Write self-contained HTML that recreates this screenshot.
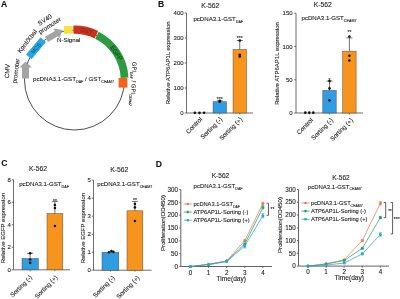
<!DOCTYPE html>
<html><head><meta charset="utf-8"><style>
html,body{margin:0;padding:0;background:#fff;overflow:hidden;}
svg{display:block;font-family:"Liberation Sans", sans-serif;filter:blur(0.3px);}
text{stroke:#1c1c1c;stroke-width:0.1px;}
.nos{stroke:none}
</style></head><body>
<svg width="400" height="299" viewBox="0 0 400 299">
<rect width="400" height="299" fill="#fff"/>
<text x="1.00" y="6.80" font-size="8.6" text-anchor="start" fill="#111" font-weight="bold" >A</text>
<circle cx="74.5" cy="80" r="50" fill="none" stroke="#3a3a3a" stroke-width="0.9"/>
<path d="M22,78.4 L22,67.4 L19.4,67.4 L25.6,61.6 L31.8,67.4 L29,67.4 L29,78.4 Z" fill="#a4a4a4"/>
<g transform="translate(36,48.3) rotate(-50)"><rect x="-11.2" y="-3.6" width="22.4" height="7.2" fill="#27a7e2"/><text x="0" y="1.9" font-size="5.4" text-anchor="middle" fill="#17608c" style="stroke:#17608c">MCS</text></g>
<g transform="translate(54.3,34.8) rotate(-30)"><path d="M-9,-3 L2.4,-3 L2.4,-6 L9.4,0 L2.4,6 L2.4,3 L-9,3 Z" fill="#a4a4a4"/></g>
<rect x="63.8" y="26" width="8.8" height="7.7" fill="#f3e23c"/>
<path d="M73.36,25.61 A54.4,54.4 0 0 1 98.18,31.02 L94.61,38.41 A46.199999999999996,46.199999999999996 0 0 0 73.53,33.81Z" fill="#c93220"/>
<path d="M98.68,31.72 A54.0,54.0 0 0 1 128.44,77.55 L120.65,77.90 A46.2,46.2 0 0 0 95.19,38.69Z" fill="#2f9b40"/>
<rect x="118.6" y="78" width="8.8" height="9.6" fill="#f26322"/>
<g transform="translate(86.3,31) rotate(15)"><text x="0" y="2.1" font-size="6" text-anchor="middle" fill="#9a2414" style="stroke:#9a2414">GST</text></g>
<g transform="translate(116.4,52.9) rotate(56)"><text x="0" y="2.1" font-size="6.1" text-anchor="middle" fill="#0f4416" style="stroke:#0f4416">EGFP</text></g>
<text x="9.00" y="78.20" font-size="6.3" text-anchor="start" fill="#1c1c1c" font-weight="normal" transform="rotate(-87 9.00 78.20)" >CMV</text>
<text x="16.60" y="83.60" font-size="6.2" text-anchor="start" fill="#1c1c1c" font-weight="normal" transform="rotate(-83 16.60 83.60)" >promoter</text>
<text x="20.50" y="53.50" font-size="6.3" text-anchor="start" fill="#1c1c1c" font-weight="normal" transform="rotate(-52 20.50 53.50)" >KpnI/XbaI</text>
<text x="39.60" y="26.00" font-size="6.4" text-anchor="start" fill="#1c1c1c" font-weight="normal" transform="rotate(-34 39.60 26.00)" >SV40</text>
<text x="40.30" y="34.20" font-size="6.3" text-anchor="start" fill="#1c1c1c" font-weight="normal" transform="rotate(-33 40.30 34.20)" >promoter</text>
<text x="57.00" y="42.40" font-size="6.1" text-anchor="start" fill="#1c1c1c" font-weight="normal" >N-Signal</text>
<text x="33" y="81.3" font-size="6.2" fill="#1c1c1c">pcDNA3.1-GST<tspan font-size="3.7" dy="1.8">DAF</tspan><tspan dy="-1.8"> / GST</tspan><tspan font-size="3.7" dy="1.8">CEAM7</tspan></text>
<g transform="translate(132.6,61.8) rotate(92.5)"><text x="0" y="0" font-size="5.9" fill="#1c1c1c">GPI<tspan font-size="3.5" dy="1.8">DAF</tspan><tspan dy="-1.8"> / GPI</tspan><tspan font-size="3.5" dy="1.8">CEAM7</tspan></text></g>
<text x="158.00" y="7.20" font-size="8.6" text-anchor="start" fill="#111" font-weight="bold" >B</text>
<path d="M186.5,13.0 L186.5,113 L253,113" fill="none" stroke="#4a4a4a" stroke-width="0.8"/>
<line x1="184.7" y1="113.0" x2="186.5" y2="113.0" stroke="#4a4a4a" stroke-width="0.8"/>
<text x="183.60" y="115.10" font-size="6.0" text-anchor="end" fill="#1c1c1c" font-weight="normal" >0</text>
<line x1="184.7" y1="88.0" x2="186.5" y2="88.0" stroke="#4a4a4a" stroke-width="0.8"/>
<text x="183.60" y="90.10" font-size="6.0" text-anchor="end" fill="#1c1c1c" font-weight="normal" >100</text>
<line x1="184.7" y1="63.0" x2="186.5" y2="63.0" stroke="#4a4a4a" stroke-width="0.8"/>
<text x="183.60" y="65.10" font-size="6.0" text-anchor="end" fill="#1c1c1c" font-weight="normal" >200</text>
<line x1="184.7" y1="38.0" x2="186.5" y2="38.0" stroke="#4a4a4a" stroke-width="0.8"/>
<text x="183.60" y="40.10" font-size="6.0" text-anchor="end" fill="#1c1c1c" font-weight="normal" >300</text>
<line x1="184.7" y1="13.0" x2="186.5" y2="13.0" stroke="#4a4a4a" stroke-width="0.8"/>
<text x="183.60" y="15.10" font-size="6.0" text-anchor="end" fill="#1c1c1c" font-weight="normal" >400</text>
<text x="170.00" y="62.80" font-size="6.0" text-anchor="middle" fill="#1c1c1c" font-weight="normal" transform="rotate(-90 170.00 62.80)" >Relative ATP6AP1L expression</text>
<text x="210.20" y="7.50" font-size="6.8" text-anchor="middle" fill="#1c1c1c" font-weight="normal" >K-562</text>
<text x="193.4" y="20.8" font-size="6.1" fill="#1c1c1c">pcDNA3.1-GST<tspan font-size="3.7" dy="1.8">DAF</tspan></text>
<line x1="199.5" y1="113" x2="199.5" y2="114.5" stroke="#4a4a4a" stroke-width="0.7"/>
<circle cx="194.9" cy="112.75" r="1.3" fill="#111"/>
<circle cx="199.5" cy="112.75" r="1.3" fill="#111"/>
<circle cx="204.1" cy="112.75" r="1.3" fill="#111"/>
<line x1="219.75" y1="113" x2="219.75" y2="114.5" stroke="#4a4a4a" stroke-width="0.7"/>
<rect x="213.05" y="101.75" width="13.4" height="11.25" fill="#2e9de2" stroke="#5a4a3a" stroke-width="0.5"/>
<line x1="219.75" y1="101.75" x2="219.75" y2="100.75" stroke="#333" stroke-width="0.7"/>
<line x1="216.75" y1="100.75" x2="222.75" y2="100.75" stroke="#333" stroke-width="0.7"/>
<circle cx="219.75" cy="100.75" r="1.3" fill="#111"/>
<circle cx="219.75" cy="101.625" r="1.3" fill="#111"/>
<text x="219.75" y="100.50" font-size="5" text-anchor="middle" fill="#1c1c1c" font-weight="normal" >***</text>
<line x1="239.75" y1="113" x2="239.75" y2="114.5" stroke="#4a4a4a" stroke-width="0.7"/>
<rect x="233.05" y="49.5" width="13.4" height="63.5" fill="#f7941d" stroke="#5a4a3a" stroke-width="0.5"/>
<line x1="239.75" y1="49.5" x2="239.75" y2="40.5" stroke="#333" stroke-width="0.7"/>
<line x1="236.75" y1="40.5" x2="242.75" y2="40.5" stroke="#333" stroke-width="0.7"/>
<circle cx="239.75" cy="40.5" r="1.3" fill="#111"/>
<circle cx="239.75" cy="54.75" r="1.3" fill="#111"/>
<circle cx="239.75" cy="56.5" r="1.3" fill="#111"/>
<text x="239.75" y="39.85" font-size="5" text-anchor="middle" fill="#1c1c1c" font-weight="normal" >***</text>
<text x="202.80" y="119.80" font-size="6.3" text-anchor="end" fill="#1c1c1c" font-weight="normal" transform="rotate(-45 202.80 119.80)" >Control</text>
<text x="222.80" y="119.80" font-size="6.3" text-anchor="end" fill="#1c1c1c" font-weight="normal" transform="rotate(-45 222.80 119.80)" >Sorting (-)</text>
<text x="242.80" y="119.80" font-size="6.3" text-anchor="end" fill="#1c1c1c" font-weight="normal" transform="rotate(-45 242.80 119.80)" >Sorting (+)</text>
<path d="M296,13.25 L296,113 L363,113" fill="none" stroke="#4a4a4a" stroke-width="0.8"/>
<line x1="294.2" y1="113.0" x2="296" y2="113.0" stroke="#4a4a4a" stroke-width="0.8"/>
<text x="292.60" y="115.10" font-size="6.0" text-anchor="end" fill="#1c1c1c" font-weight="normal" >0</text>
<line x1="294.2" y1="79.75" x2="296" y2="79.75" stroke="#4a4a4a" stroke-width="0.8"/>
<text x="292.60" y="81.85" font-size="6.0" text-anchor="end" fill="#1c1c1c" font-weight="normal" >50</text>
<line x1="294.2" y1="46.5" x2="296" y2="46.5" stroke="#4a4a4a" stroke-width="0.8"/>
<text x="292.60" y="48.60" font-size="6.0" text-anchor="end" fill="#1c1c1c" font-weight="normal" >100</text>
<line x1="294.2" y1="13.25" x2="296" y2="13.25" stroke="#4a4a4a" stroke-width="0.8"/>
<text x="292.60" y="15.35" font-size="6.0" text-anchor="end" fill="#1c1c1c" font-weight="normal" >150</text>
<text x="279.50" y="63.40" font-size="6.0" text-anchor="middle" fill="#1c1c1c" font-weight="normal" transform="rotate(-90 279.50 63.40)" >Relative ATP6AP1L expression</text>
<text x="322.70" y="7.30" font-size="6.8" text-anchor="middle" fill="#1c1c1c" font-weight="normal" >K-562</text>
<text x="301.5" y="20.2" font-size="6.1" fill="#1c1c1c">pcDNA3.1-GST<tspan font-size="3.7" dy="1.8">CEAM7</tspan></text>
<line x1="309.3" y1="113" x2="309.3" y2="114.5" stroke="#4a4a4a" stroke-width="0.7"/>
<circle cx="305.3" cy="112.6675" r="1.3" fill="#111"/>
<circle cx="309.3" cy="112.6675" r="1.3" fill="#111"/>
<circle cx="313.3" cy="112.6675" r="1.3" fill="#111"/>
<line x1="329.5" y1="113" x2="329.5" y2="114.5" stroke="#4a4a4a" stroke-width="0.7"/>
<rect x="322.8" y="90.39" width="13.4" height="22.61" fill="#2e9de2" stroke="#5a4a3a" stroke-width="0.5"/>
<line x1="329.5" y1="90.39" x2="329.5" y2="81.08" stroke="#333" stroke-width="0.7"/>
<line x1="326.5" y1="81.08" x2="332.5" y2="81.08" stroke="#333" stroke-width="0.7"/>
<circle cx="329.5" cy="81.08" r="1.3" fill="#111"/>
<circle cx="329.5" cy="88.395" r="1.3" fill="#111"/>
<circle cx="329.5" cy="100.365" r="1.3" fill="#111"/>
<text x="329.50" y="81.90" font-size="5" text-anchor="middle" fill="#1c1c1c" font-weight="normal" >*</text>
<line x1="349.4" y1="113" x2="349.4" y2="114.5" stroke="#4a4a4a" stroke-width="0.7"/>
<rect x="342.7" y="51.154999999999994" width="13.4" height="61.845000000000006" fill="#f7941d" stroke="#5a4a3a" stroke-width="0.5"/>
<line x1="349.4" y1="51.154999999999994" x2="349.4" y2="37.85499999999999" stroke="#333" stroke-width="0.7"/>
<line x1="346.4" y1="37.85499999999999" x2="352.4" y2="37.85499999999999" stroke="#333" stroke-width="0.7"/>
<circle cx="349.4" cy="36.52499999999999" r="1.3" fill="#111"/>
<circle cx="349.4" cy="55.809999999999995" r="1.3" fill="#111"/>
<circle cx="349.4" cy="60.464999999999996" r="1.3" fill="#111"/>
<text x="349.40" y="33.70" font-size="5" text-anchor="middle" fill="#1c1c1c" font-weight="normal" >**</text>
<text x="313.60" y="120.60" font-size="6.3" text-anchor="end" fill="#1c1c1c" font-weight="normal" transform="rotate(-45 313.60 120.60)" >Control</text>
<text x="333.60" y="120.60" font-size="6.3" text-anchor="end" fill="#1c1c1c" font-weight="normal" transform="rotate(-45 333.60 120.60)" >Sorting (-)</text>
<text x="353.60" y="120.60" font-size="6.3" text-anchor="end" fill="#1c1c1c" font-weight="normal" transform="rotate(-45 353.60 120.60)" >Sorting (+)</text>
<text x="1.20" y="166.00" font-size="8.6" text-anchor="start" fill="#111" font-weight="bold" >C</text>
<path d="M13.5,179.8 L13.5,269.8 L70,269.8" fill="none" stroke="#4a4a4a" stroke-width="0.8"/>
<line x1="11.7" y1="269.8" x2="13.5" y2="269.8" stroke="#4a4a4a" stroke-width="0.8"/>
<text x="10.90" y="271.90" font-size="6.0" text-anchor="end" fill="#1c1c1c" font-weight="normal" >0</text>
<line x1="11.7" y1="247.3" x2="13.5" y2="247.3" stroke="#4a4a4a" stroke-width="0.8"/>
<text x="10.90" y="249.40" font-size="6.0" text-anchor="end" fill="#1c1c1c" font-weight="normal" >2</text>
<line x1="11.7" y1="224.8" x2="13.5" y2="224.8" stroke="#4a4a4a" stroke-width="0.8"/>
<text x="10.90" y="226.90" font-size="6.0" text-anchor="end" fill="#1c1c1c" font-weight="normal" >4</text>
<line x1="11.7" y1="202.3" x2="13.5" y2="202.3" stroke="#4a4a4a" stroke-width="0.8"/>
<text x="10.90" y="204.40" font-size="6.0" text-anchor="end" fill="#1c1c1c" font-weight="normal" >6</text>
<line x1="11.7" y1="179.8" x2="13.5" y2="179.8" stroke="#4a4a4a" stroke-width="0.8"/>
<text x="10.90" y="181.90" font-size="6.0" text-anchor="end" fill="#1c1c1c" font-weight="normal" >8</text>
<text x="4.60" y="228.00" font-size="6.0" text-anchor="middle" fill="#1c1c1c" font-weight="normal" transform="rotate(-90 4.60 228.00)" >Relative EGFP expression</text>
<text x="38.00" y="170.50" font-size="6.8" text-anchor="middle" fill="#1c1c1c" font-weight="normal" >K-562</text>
<text x="19.2" y="186.2" font-size="6.1" fill="#1c1c1c">pcDNA3.1-GST<tspan font-size="3.7" dy="1.8">DAF</tspan></text>
<line x1="30.15" y1="269.8" x2="30.15" y2="271.3" stroke="#4a4a4a" stroke-width="0.7"/>
<rect x="22.0" y="258.55" width="16.3" height="11.25" fill="#2e9de2" stroke="#5a4a3a" stroke-width="0.5"/>
<line x1="30.15" y1="258.55" x2="30.15" y2="253.26250000000002" stroke="#333" stroke-width="0.7"/>
<line x1="27.15" y1="253.26250000000002" x2="33.15" y2="253.26250000000002" stroke="#333" stroke-width="0.7"/>
<circle cx="30.15" cy="253.26250000000002" r="1.3" fill="#111"/>
<circle cx="30.15" cy="259.45" r="1.3" fill="#111"/>
<circle cx="30.15" cy="262.825" r="1.3" fill="#111"/>
<line x1="54.9" y1="269.8" x2="54.9" y2="271.3" stroke="#4a4a4a" stroke-width="0.7"/>
<rect x="47.0" y="213.55" width="15.8" height="56.25" fill="#f7941d" stroke="#5a4a3a" stroke-width="0.5"/>
<line x1="54.9" y1="213.55" x2="54.9" y2="201.4" stroke="#333" stroke-width="0.7"/>
<line x1="51.9" y1="201.4" x2="57.9" y2="201.4" stroke="#333" stroke-width="0.7"/>
<circle cx="54.9" cy="205.0" r="1.3" fill="#111"/>
<circle cx="54.9" cy="208.03750000000002" r="1.3" fill="#111"/>
<circle cx="54.9" cy="225.925" r="1.3" fill="#111"/>
<text x="54.90" y="202.50" font-size="5" text-anchor="middle" fill="#1c1c1c" font-weight="normal" >**</text>
<text x="32.60" y="277.80" font-size="6.3" text-anchor="end" fill="#1c1c1c" font-weight="normal" transform="rotate(-45 32.60 277.80)" >Sorting (-)</text>
<text x="58.20" y="278.00" font-size="6.3" text-anchor="end" fill="#1c1c1c" font-weight="normal" transform="rotate(-45 58.20 278.00)" >Sorting (+)</text>
<path d="M93.5,180.2 L93.5,270.2 L151.6,270.2" fill="none" stroke="#4a4a4a" stroke-width="0.8"/>
<line x1="91.7" y1="270.2" x2="93.5" y2="270.2" stroke="#4a4a4a" stroke-width="0.8"/>
<text x="90.90" y="272.30" font-size="6.0" text-anchor="end" fill="#1c1c1c" font-weight="normal" >0</text>
<line x1="91.7" y1="252.2" x2="93.5" y2="252.2" stroke="#4a4a4a" stroke-width="0.8"/>
<text x="90.90" y="254.30" font-size="6.0" text-anchor="end" fill="#1c1c1c" font-weight="normal" >1</text>
<line x1="91.7" y1="234.2" x2="93.5" y2="234.2" stroke="#4a4a4a" stroke-width="0.8"/>
<text x="90.90" y="236.30" font-size="6.0" text-anchor="end" fill="#1c1c1c" font-weight="normal" >2</text>
<line x1="91.7" y1="216.2" x2="93.5" y2="216.2" stroke="#4a4a4a" stroke-width="0.8"/>
<text x="90.90" y="218.30" font-size="6.0" text-anchor="end" fill="#1c1c1c" font-weight="normal" >3</text>
<line x1="91.7" y1="198.2" x2="93.5" y2="198.2" stroke="#4a4a4a" stroke-width="0.8"/>
<text x="90.90" y="200.30" font-size="6.0" text-anchor="end" fill="#1c1c1c" font-weight="normal" >4</text>
<line x1="91.7" y1="180.2" x2="93.5" y2="180.2" stroke="#4a4a4a" stroke-width="0.8"/>
<text x="90.90" y="182.30" font-size="6.0" text-anchor="end" fill="#1c1c1c" font-weight="normal" >5</text>
<text x="85.00" y="228.00" font-size="6.0" text-anchor="middle" fill="#1c1c1c" font-weight="normal" transform="rotate(-90 85.00 228.00)" >Relative EGFP expression</text>
<text x="119.30" y="171.60" font-size="6.8" text-anchor="middle" fill="#1c1c1c" font-weight="normal" >K-562</text>
<text x="97.3" y="185.8" font-size="6.1" fill="#1c1c1c">pcDNA3.1-GST<tspan font-size="3.7" dy="1.8">CEAM7</tspan></text>
<line x1="110.4" y1="270.2" x2="110.4" y2="271.7" stroke="#4a4a4a" stroke-width="0.7"/>
<rect x="102.0" y="252.2" width="16.8" height="18.0" fill="#2e9de2" stroke="#5a4a3a" stroke-width="0.5"/>
<circle cx="108.9" cy="252.2" r="1.3" fill="#111"/>
<circle cx="111.4" cy="251.11999999999998" r="1.3" fill="#111"/>
<circle cx="113.4" cy="251.83999999999997" r="1.3" fill="#111"/>
<line x1="134.9" y1="270.2" x2="134.9" y2="271.7" stroke="#4a4a4a" stroke-width="0.7"/>
<rect x="127.0" y="210.79999999999998" width="15.8" height="59.400000000000006" fill="#f7941d" stroke="#5a4a3a" stroke-width="0.5"/>
<line x1="134.9" y1="210.79999999999998" x2="134.9" y2="201.44" stroke="#333" stroke-width="0.7"/>
<line x1="131.9" y1="201.44" x2="137.9" y2="201.44" stroke="#333" stroke-width="0.7"/>
<circle cx="134.9" cy="203.95999999999998" r="1.3" fill="#111"/>
<circle cx="134.9" cy="207.38" r="1.3" fill="#111"/>
<circle cx="134.9" cy="221.06" r="1.3" fill="#111"/>
<text x="134.90" y="201.60" font-size="5" text-anchor="middle" fill="#1c1c1c" font-weight="normal" >**</text>
<text x="115.30" y="278.20" font-size="6.3" text-anchor="end" fill="#1c1c1c" font-weight="normal" transform="rotate(-45 115.30 278.20)" >Sorting (-)</text>
<text x="140.00" y="278.20" font-size="6.3" text-anchor="end" fill="#1c1c1c" font-weight="normal" transform="rotate(-45 140.00 278.20)" >Sorting (+)</text>
<text x="155.80" y="166.70" font-size="8.6" text-anchor="start" fill="#111" font-weight="bold" >D</text>
<path d="M180.8,189.49 L180.8,266.5 L272,266.5" fill="none" stroke="#6a5e6a" stroke-width="1"/>
<line x1="179.20000000000002" y1="266.5" x2="180.8" y2="266.5" stroke="#4a4a4a" stroke-width="0.8"/>
<text x="178.00" y="268.70" font-size="6.3" text-anchor="end" fill="#1c1c1c" font-weight="normal" >0</text>
<line x1="179.20000000000002" y1="253.665" x2="180.8" y2="253.665" stroke="#4a4a4a" stroke-width="0.8"/>
<text x="178.00" y="255.86" font-size="6.3" text-anchor="end" fill="#1c1c1c" font-weight="normal" >50</text>
<line x1="179.20000000000002" y1="240.83" x2="180.8" y2="240.83" stroke="#4a4a4a" stroke-width="0.8"/>
<text x="178.00" y="243.03" font-size="6.3" text-anchor="end" fill="#1c1c1c" font-weight="normal" >100</text>
<line x1="179.20000000000002" y1="227.995" x2="180.8" y2="227.995" stroke="#4a4a4a" stroke-width="0.8"/>
<text x="178.00" y="230.19" font-size="6.3" text-anchor="end" fill="#1c1c1c" font-weight="normal" >150</text>
<line x1="179.20000000000002" y1="215.16" x2="180.8" y2="215.16" stroke="#4a4a4a" stroke-width="0.8"/>
<text x="178.00" y="217.36" font-size="6.3" text-anchor="end" fill="#1c1c1c" font-weight="normal" >200</text>
<line x1="179.20000000000002" y1="202.325" x2="180.8" y2="202.325" stroke="#4a4a4a" stroke-width="0.8"/>
<text x="178.00" y="204.52" font-size="6.3" text-anchor="end" fill="#1c1c1c" font-weight="normal" >250</text>
<line x1="179.20000000000002" y1="189.49" x2="180.8" y2="189.49" stroke="#4a4a4a" stroke-width="0.8"/>
<text x="178.00" y="191.69" font-size="6.3" text-anchor="end" fill="#1c1c1c" font-weight="normal" >300</text>
<line x1="190.5" y1="266.5" x2="190.5" y2="268.1" stroke="#4a4a4a" stroke-width="0.8"/>
<text x="190.50" y="274.70" font-size="6.3" text-anchor="middle" fill="#1c1c1c" font-weight="normal" >0</text>
<line x1="208.6" y1="266.5" x2="208.6" y2="268.1" stroke="#4a4a4a" stroke-width="0.8"/>
<text x="208.60" y="274.70" font-size="6.3" text-anchor="middle" fill="#1c1c1c" font-weight="normal" >1</text>
<line x1="226.7" y1="266.5" x2="226.7" y2="268.1" stroke="#4a4a4a" stroke-width="0.8"/>
<text x="226.70" y="274.70" font-size="6.3" text-anchor="middle" fill="#1c1c1c" font-weight="normal" >2</text>
<line x1="244.8" y1="266.5" x2="244.8" y2="268.1" stroke="#4a4a4a" stroke-width="0.8"/>
<text x="244.80" y="274.70" font-size="6.3" text-anchor="middle" fill="#1c1c1c" font-weight="normal" >3</text>
<line x1="262.9" y1="266.5" x2="262.9" y2="268.1" stroke="#4a4a4a" stroke-width="0.8"/>
<text x="262.90" y="274.70" font-size="6.3" text-anchor="middle" fill="#1c1c1c" font-weight="normal" >4</text>
<text x="231.30" y="280.50" font-size="6.6" text-anchor="middle" fill="#1c1c1c" font-weight="normal" >Time(day)</text>
<text x="165.20" y="223.00" font-size="6.1" text-anchor="middle" fill="#1c1c1c" font-weight="normal" transform="rotate(-90 165.20 223.00)" >Proliferation(OD450)</text>
<text x="220.50" y="177.80" font-size="6.6" text-anchor="middle" fill="#1c1c1c" font-weight="normal" >K-562</text>
<text x="193.6" y="188.2" font-size="6.0" fill="#1c1c1c">pcDNA3.1-GST<tspan font-size="3.6" dy="1.8">DAF</tspan></text>
<polyline points="190.50,266.50 208.60,264.19 226.70,260.85 244.80,240.57 262.90,203.61" fill="none" stroke="#ee7b52" stroke-width="0.75"/>
<circle cx="190.5" cy="266.5" r="1.5" fill="#ee7b52"/>
<circle cx="208.6" cy="264.1897" r="1.5" fill="#ee7b52"/>
<circle cx="226.7" cy="260.8526" r="1.5" fill="#ee7b52"/>
<line x1="244.8" y1="239.5465" x2="244.8" y2="241.60010000000003" stroke="#ee7b52" stroke-width="0.8"/>
<line x1="243.4" y1="239.5465" x2="246.20000000000002" y2="239.5465" stroke="#ee7b52" stroke-width="0.6"/>
<line x1="243.4" y1="241.60010000000003" x2="246.20000000000002" y2="241.60010000000003" stroke="#ee7b52" stroke-width="0.6"/>
<circle cx="244.8" cy="240.57330000000002" r="1.5" fill="#ee7b52"/>
<line x1="262.9" y1="202.0683" x2="262.9" y2="205.1487" stroke="#ee7b52" stroke-width="0.8"/>
<line x1="261.5" y1="202.0683" x2="264.29999999999995" y2="202.0683" stroke="#ee7b52" stroke-width="0.6"/>
<line x1="261.5" y1="205.1487" x2="264.29999999999995" y2="205.1487" stroke="#ee7b52" stroke-width="0.6"/>
<circle cx="262.9" cy="203.6085" r="1.5" fill="#ee7b52"/>
<polyline points="190.50,266.50 208.60,264.45 226.70,261.11 244.80,243.91 262.90,207.46" fill="none" stroke="#23a56a" stroke-width="0.75"/>
<circle cx="190.5" cy="266.5" r="1.5" fill="#23a56a"/>
<circle cx="208.6" cy="264.4464" r="1.5" fill="#23a56a"/>
<circle cx="226.7" cy="261.1093" r="1.5" fill="#23a56a"/>
<line x1="244.8" y1="242.8836" x2="244.8" y2="244.93720000000002" stroke="#23a56a" stroke-width="0.8"/>
<line x1="243.4" y1="242.8836" x2="246.20000000000002" y2="242.8836" stroke="#23a56a" stroke-width="0.6"/>
<line x1="243.4" y1="244.93720000000002" x2="246.20000000000002" y2="244.93720000000002" stroke="#23a56a" stroke-width="0.6"/>
<circle cx="244.8" cy="243.9104" r="1.5" fill="#23a56a"/>
<line x1="262.9" y1="205.9188" x2="262.9" y2="208.9992" stroke="#23a56a" stroke-width="0.8"/>
<line x1="261.5" y1="205.9188" x2="264.29999999999995" y2="205.9188" stroke="#23a56a" stroke-width="0.6"/>
<line x1="261.5" y1="208.9992" x2="264.29999999999995" y2="208.9992" stroke="#23a56a" stroke-width="0.6"/>
<circle cx="262.9" cy="207.459" r="1.5" fill="#23a56a"/>
<polyline points="190.50,266.50 208.60,264.70 226.70,261.62 244.80,245.96 262.90,215.67" fill="none" stroke="#2ba6d4" stroke-width="0.75"/>
<circle cx="190.5" cy="266.5" r="1.5" fill="#2ba6d4"/>
<circle cx="208.6" cy="264.7031" r="1.5" fill="#2ba6d4"/>
<circle cx="226.7" cy="261.6227" r="1.5" fill="#2ba6d4"/>
<line x1="244.8" y1="243.9104" x2="244.8" y2="248.0176" stroke="#2ba6d4" stroke-width="0.8"/>
<line x1="243.4" y1="243.9104" x2="246.20000000000002" y2="243.9104" stroke="#2ba6d4" stroke-width="0.6"/>
<line x1="243.4" y1="248.0176" x2="246.20000000000002" y2="248.0176" stroke="#2ba6d4" stroke-width="0.6"/>
<circle cx="244.8" cy="245.964" r="1.5" fill="#2ba6d4"/>
<line x1="262.9" y1="213.61980000000003" x2="262.9" y2="217.727" stroke="#2ba6d4" stroke-width="0.8"/>
<line x1="261.5" y1="213.61980000000003" x2="264.29999999999995" y2="213.61980000000003" stroke="#2ba6d4" stroke-width="0.6"/>
<line x1="261.5" y1="217.727" x2="264.29999999999995" y2="217.727" stroke="#2ba6d4" stroke-width="0.6"/>
<circle cx="262.9" cy="215.67340000000002" r="1.5" fill="#2ba6d4"/>
<line x1="183.8" y1="204.0" x2="191.8" y2="204.0" stroke="#ee7b52" stroke-width="0.8"/>
<circle cx="187.8" cy="204.0" r="1.3" fill="#ee7b52"/>
<text x="193.4" y="206.1" font-size="5.7" fill="#1c1c1c">pcDNA3.1-GST<tspan font-size="3.5" dy="1.8">DAF</tspan></text>
<line x1="183.8" y1="212.1" x2="191.8" y2="212.1" stroke="#23a56a" stroke-width="0.8"/>
<circle cx="187.8" cy="212.1" r="1.3" fill="#23a56a"/>
<text x="193.4" y="214.2" font-size="5.7" fill="#1c1c1c">ATP6AP1L-Sorting (-)</text>
<line x1="183.8" y1="220.2" x2="191.8" y2="220.2" stroke="#2ba6d4" stroke-width="0.8"/>
<circle cx="187.8" cy="220.2" r="1.3" fill="#2ba6d4"/>
<text x="193.4" y="222.29999999999998" font-size="5.7" fill="#1c1c1c">ATP6AP1L-Sorting (+)</text>
<path d="M266.5,203.2 L268.5,203.2 L268.5,215.3 L266.5,215.3" fill="none" stroke="#333" stroke-width="0.8"/>
<text x="270.60" y="211.00" font-size="4.6" text-anchor="start" fill="#1c1c1c" font-weight="normal" >**</text>
<path d="M298.5,189.51000000000002 L298.5,266.1 L389,266.1" fill="none" stroke="#6a5e6a" stroke-width="1"/>
<line x1="296.9" y1="266.1" x2="298.5" y2="266.1" stroke="#4a4a4a" stroke-width="0.8"/>
<text x="295.70" y="268.30" font-size="6.3" text-anchor="end" fill="#1c1c1c" font-weight="normal" >0</text>
<line x1="296.9" y1="253.33500000000004" x2="298.5" y2="253.33500000000004" stroke="#4a4a4a" stroke-width="0.8"/>
<text x="295.70" y="255.54" font-size="6.3" text-anchor="end" fill="#1c1c1c" font-weight="normal" >50</text>
<line x1="296.9" y1="240.57000000000002" x2="298.5" y2="240.57000000000002" stroke="#4a4a4a" stroke-width="0.8"/>
<text x="295.70" y="242.77" font-size="6.3" text-anchor="end" fill="#1c1c1c" font-weight="normal" >100</text>
<line x1="296.9" y1="227.805" x2="298.5" y2="227.805" stroke="#4a4a4a" stroke-width="0.8"/>
<text x="295.70" y="230.00" font-size="6.3" text-anchor="end" fill="#1c1c1c" font-weight="normal" >150</text>
<line x1="296.9" y1="215.04000000000002" x2="298.5" y2="215.04000000000002" stroke="#4a4a4a" stroke-width="0.8"/>
<text x="295.70" y="217.24" font-size="6.3" text-anchor="end" fill="#1c1c1c" font-weight="normal" >200</text>
<line x1="296.9" y1="202.275" x2="298.5" y2="202.275" stroke="#4a4a4a" stroke-width="0.8"/>
<text x="295.70" y="204.47" font-size="6.3" text-anchor="end" fill="#1c1c1c" font-weight="normal" >250</text>
<line x1="296.9" y1="189.51000000000002" x2="298.5" y2="189.51000000000002" stroke="#4a4a4a" stroke-width="0.8"/>
<text x="295.70" y="191.71" font-size="6.3" text-anchor="end" fill="#1c1c1c" font-weight="normal" >300</text>
<line x1="308.0" y1="266.1" x2="308.0" y2="267.70000000000005" stroke="#4a4a4a" stroke-width="0.8"/>
<text x="308.00" y="274.30" font-size="6.3" text-anchor="middle" fill="#1c1c1c" font-weight="normal" >0</text>
<line x1="326.1" y1="266.1" x2="326.1" y2="267.70000000000005" stroke="#4a4a4a" stroke-width="0.8"/>
<text x="326.10" y="274.30" font-size="6.3" text-anchor="middle" fill="#1c1c1c" font-weight="normal" >1</text>
<line x1="344.2" y1="266.1" x2="344.2" y2="267.70000000000005" stroke="#4a4a4a" stroke-width="0.8"/>
<text x="344.20" y="274.30" font-size="6.3" text-anchor="middle" fill="#1c1c1c" font-weight="normal" >2</text>
<line x1="362.3" y1="266.1" x2="362.3" y2="267.70000000000005" stroke="#4a4a4a" stroke-width="0.8"/>
<text x="362.30" y="274.30" font-size="6.3" text-anchor="middle" fill="#1c1c1c" font-weight="normal" >3</text>
<line x1="380.4" y1="266.1" x2="380.4" y2="267.70000000000005" stroke="#4a4a4a" stroke-width="0.8"/>
<text x="380.40" y="274.30" font-size="6.3" text-anchor="middle" fill="#1c1c1c" font-weight="normal" >4</text>
<text x="349.30" y="280.10" font-size="6.6" text-anchor="middle" fill="#1c1c1c" font-weight="normal" >Time(day)</text>
<text x="282.30" y="225.00" font-size="6.1" text-anchor="middle" fill="#1c1c1c" font-weight="normal" transform="rotate(-90 282.30 225.00)" >Proliferation(OD450)</text>
<text x="341.00" y="179.80" font-size="6.6" text-anchor="middle" fill="#1c1c1c" font-weight="normal" >K-562</text>
<text x="307.8" y="188.6" font-size="6.0" fill="#1c1c1c">pcDNA3.1-GST<tspan font-size="3.6" dy="1.8">CEAM7</tspan></text>
<polyline points="308.00,266.10 326.10,263.80 344.20,259.72 362.30,240.57 380.40,203.30" fill="none" stroke="#ee7b52" stroke-width="0.75"/>
<circle cx="308.0" cy="266.1" r="1.5" fill="#ee7b52"/>
<circle cx="326.1" cy="263.8023" r="1.5" fill="#ee7b52"/>
<circle cx="344.2" cy="259.71750000000003" r="1.5" fill="#ee7b52"/>
<line x1="362.3" y1="239.54880000000003" x2="362.3" y2="241.59120000000001" stroke="#ee7b52" stroke-width="0.8"/>
<line x1="360.90000000000003" y1="239.54880000000003" x2="363.7" y2="239.54880000000003" stroke="#ee7b52" stroke-width="0.6"/>
<line x1="360.90000000000003" y1="241.59120000000001" x2="363.7" y2="241.59120000000001" stroke="#ee7b52" stroke-width="0.6"/>
<circle cx="362.3" cy="240.57000000000002" r="1.5" fill="#ee7b52"/>
<line x1="380.4" y1="201.5091" x2="380.4" y2="205.0833" stroke="#ee7b52" stroke-width="0.8"/>
<line x1="379.0" y1="201.5091" x2="381.79999999999995" y2="201.5091" stroke="#ee7b52" stroke-width="0.6"/>
<line x1="379.0" y1="205.0833" x2="381.79999999999995" y2="205.0833" stroke="#ee7b52" stroke-width="0.6"/>
<circle cx="380.4" cy="203.2962" r="1.5" fill="#ee7b52"/>
<polyline points="308.00,266.10 326.10,264.06 344.20,260.48 362.30,248.23 380.40,217.59" fill="none" stroke="#23a56a" stroke-width="0.75"/>
<circle cx="308.0" cy="266.1" r="1.5" fill="#23a56a"/>
<circle cx="326.1" cy="264.05760000000004" r="1.5" fill="#23a56a"/>
<circle cx="344.2" cy="260.4834" r="1.5" fill="#23a56a"/>
<line x1="362.3" y1="247.46310000000003" x2="362.3" y2="248.9949" stroke="#23a56a" stroke-width="0.8"/>
<line x1="360.90000000000003" y1="247.46310000000003" x2="363.7" y2="247.46310000000003" stroke="#23a56a" stroke-width="0.6"/>
<line x1="360.90000000000003" y1="248.9949" x2="363.7" y2="248.9949" stroke="#23a56a" stroke-width="0.6"/>
<circle cx="362.3" cy="248.229" r="1.5" fill="#23a56a"/>
<line x1="380.4" y1="216.57180000000002" x2="380.4" y2="218.6142" stroke="#23a56a" stroke-width="0.8"/>
<line x1="379.0" y1="216.57180000000002" x2="381.79999999999995" y2="216.57180000000002" stroke="#23a56a" stroke-width="0.6"/>
<line x1="379.0" y1="218.6142" x2="381.79999999999995" y2="218.6142" stroke="#23a56a" stroke-width="0.6"/>
<circle cx="380.4" cy="217.59300000000002" r="1.5" fill="#23a56a"/>
<polyline points="308.00,266.10 326.10,265.08 344.20,263.04 362.30,253.85 380.40,234.44" fill="none" stroke="#2ba6d4" stroke-width="0.75"/>
<circle cx="308.0" cy="266.1" r="1.5" fill="#2ba6d4"/>
<circle cx="326.1" cy="265.0788" r="1.5" fill="#2ba6d4"/>
<circle cx="344.2" cy="263.0364" r="1.5" fill="#2ba6d4"/>
<line x1="362.3" y1="252.82440000000003" x2="362.3" y2="254.8668" stroke="#2ba6d4" stroke-width="0.8"/>
<line x1="360.90000000000003" y1="252.82440000000003" x2="363.7" y2="252.82440000000003" stroke="#2ba6d4" stroke-width="0.6"/>
<line x1="360.90000000000003" y1="254.8668" x2="363.7" y2="254.8668" stroke="#2ba6d4" stroke-width="0.6"/>
<circle cx="362.3" cy="253.84560000000002" r="1.5" fill="#2ba6d4"/>
<line x1="380.4" y1="232.65570000000002" x2="380.4" y2="236.22990000000004" stroke="#2ba6d4" stroke-width="0.8"/>
<line x1="379.0" y1="232.65570000000002" x2="381.79999999999995" y2="232.65570000000002" stroke="#2ba6d4" stroke-width="0.6"/>
<line x1="379.0" y1="236.22990000000004" x2="381.79999999999995" y2="236.22990000000004" stroke="#2ba6d4" stroke-width="0.6"/>
<circle cx="380.4" cy="234.44280000000003" r="1.5" fill="#2ba6d4"/>
<line x1="301.5" y1="203.0" x2="309.5" y2="203.0" stroke="#ee7b52" stroke-width="0.8"/>
<circle cx="305.5" cy="203.0" r="1.3" fill="#ee7b52"/>
<text x="311.1" y="205.1" font-size="5.7" fill="#1c1c1c">pcDNA3.1-GST<tspan font-size="3.5" dy="1.8">CEAM7</tspan></text>
<line x1="301.5" y1="211.1" x2="309.5" y2="211.1" stroke="#23a56a" stroke-width="0.8"/>
<circle cx="305.5" cy="211.1" r="1.3" fill="#23a56a"/>
<text x="311.1" y="213.2" font-size="5.7" fill="#1c1c1c">ATP6AP1L-Sorting (-)</text>
<line x1="301.5" y1="219.2" x2="309.5" y2="219.2" stroke="#2ba6d4" stroke-width="0.8"/>
<circle cx="305.5" cy="219.2" r="1.3" fill="#2ba6d4"/>
<text x="311.1" y="221.29999999999998" font-size="5.7" fill="#1c1c1c">ATP6AP1L-Sorting (+)</text>
<path d="M383.7,202.5 L385.7,202.5 L385.7,217.7 L383.7,217.7" fill="none" stroke="#333" stroke-width="0.8"/>
<text x="388.20" y="212.60" font-size="4.6" text-anchor="start" fill="#1c1c1c" font-weight="normal" >**</text>
<path d="M390.6,202.5 L392.6,202.5 L392.6,234 L390.6,234" fill="none" stroke="#333" stroke-width="0.8"/>
<text x="393.80" y="221.00" font-size="4.6" text-anchor="start" fill="#1c1c1c" font-weight="normal" >****</text>
</svg></body></html>
